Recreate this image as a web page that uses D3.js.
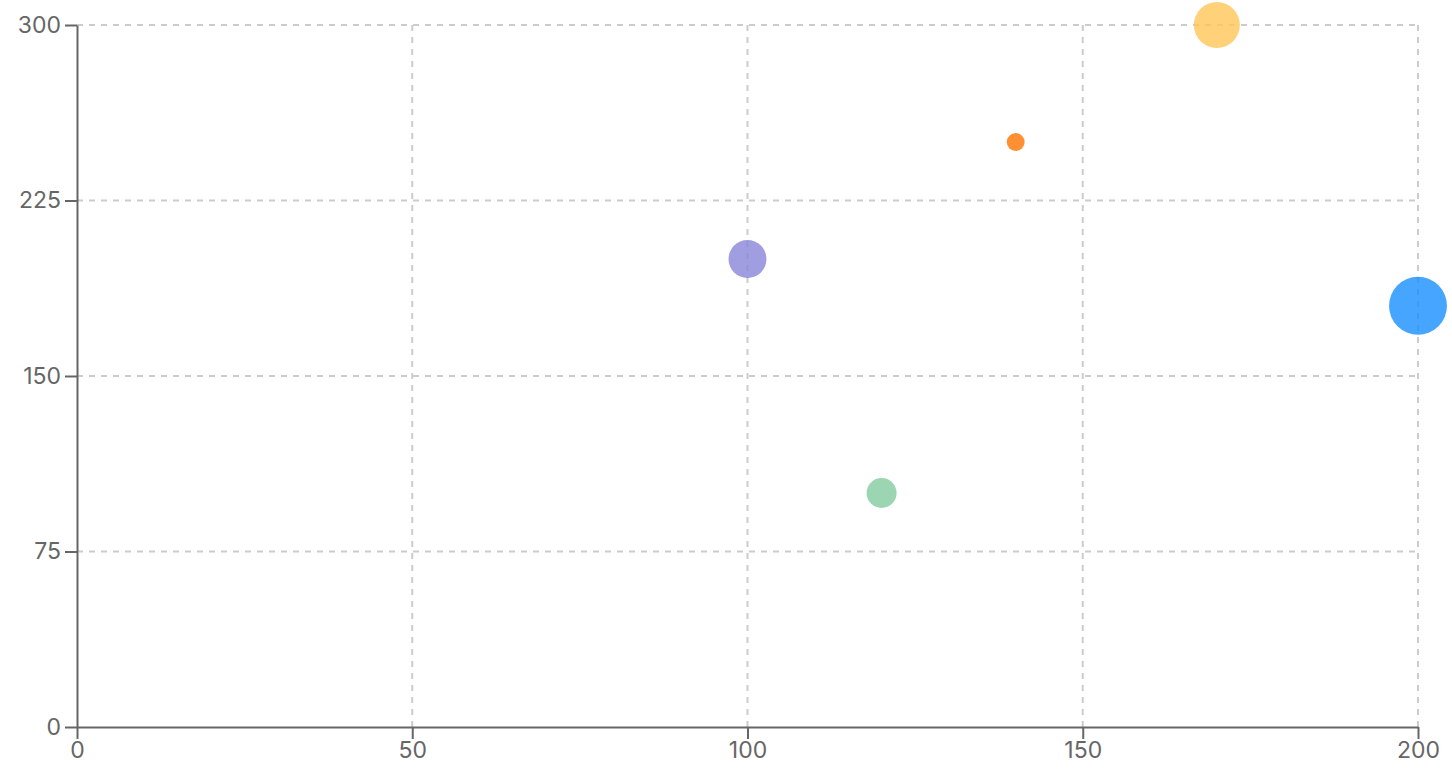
<!DOCTYPE html>
<html lang="en">
<head>
    <meta charset="UTF-8">
    <title>Bubble Scatter</title>
    <script src="https://d3js.org/d3.v7.min.js"></script>
    <style>
        body { margin: 0; background: #fff; }
        .axis text { font-family: Inter, "Liberation Sans", Arial, sans-serif; font-size: 23px; fill: #666; }
        .axis path, .axis line { stroke: #666; stroke-width: 2px; }
        .grid line { stroke: #ccc; stroke-width: 2px; stroke-dasharray: 6 6; }
    </style>
</head>
<body>
<div id="chart"></div>
<script>
  // data
  const xValues = [100, 120, 140, 170, 200];
  const yValues = [200, 100, 250, 300, 180];
  const zValues = [360, 225, 80, 530, 840];
  const colors = ["#8884d8", "#82ca9d", "#ff7300", "#ffc658", "#1890ff"];
  const xTicks = [0, 50, 100, 150, 200];
  const yTicks = [0, 75, 150, 225, 300];

  const margin = { top: 25, right: 34, bottom: 47, left: 77 },
        width = 1452 - margin.left - margin.right,
        height = 774 - margin.top - margin.bottom;

  const svg = d3.select("#chart")
    .append("svg")
      .attr("width", width + margin.left + margin.right)
      .attr("height", height + margin.top + margin.bottom)
    .append("g")
      .attr("transform", `translate(${margin.left},${margin.top})`);

  const x = d3.scaleLinear().domain([0, 200]).range([0, width]);
  const y = d3.scaleLinear().domain([0, 300]).range([height, 0]);
  const r = d3.scaleSqrt().domain([0, 900]).range([0, 30]);

  // dashed grid
  svg.append("g").attr("class", "grid")
    .selectAll("line.h")
    .data(yTicks.filter(d => d > 0))
    .join("line")
      .attr("x1", 0).attr("x2", width)
      .attr("y1", d => y(d)).attr("y2", d => y(d));

  svg.append("g").attr("class", "grid")
    .selectAll("line.v")
    .data(xTicks.filter(d => d > 0))
    .join("line")
      .attr("y1", 0).attr("y2", height)
      .attr("x1", d => x(d)).attr("x2", d => x(d));

  // axes
  svg.append("g")
    .attr("class", "axis")
    .attr("transform", `translate(0,${height})`)
    .call(d3.axisBottom(x).tickValues(xTicks).tickSize(12).tickSizeOuter(0).tickPadding(3));

  svg.append("g")
    .attr("class", "axis")
    .call(d3.axisLeft(y).tickValues(yTicks).tickSize(12).tickSizeOuter(0).tickPadding(4));

  // bubbles
  const data = xValues.map((d, i) => ({ x: d, y: yValues[i], z: zValues[i], color: colors[i] }));

  svg.append("g")
    .selectAll("circle")
    .data(data)
    .join("circle")
      .attr("cx", d => x(d.x))
      .attr("cy", d => y(d.y))
      .attr("r", d => r(d.z))
      .attr("fill", d => d.color)
      .attr("fill-opacity", 0.8);
</script>
</body>
</html>
